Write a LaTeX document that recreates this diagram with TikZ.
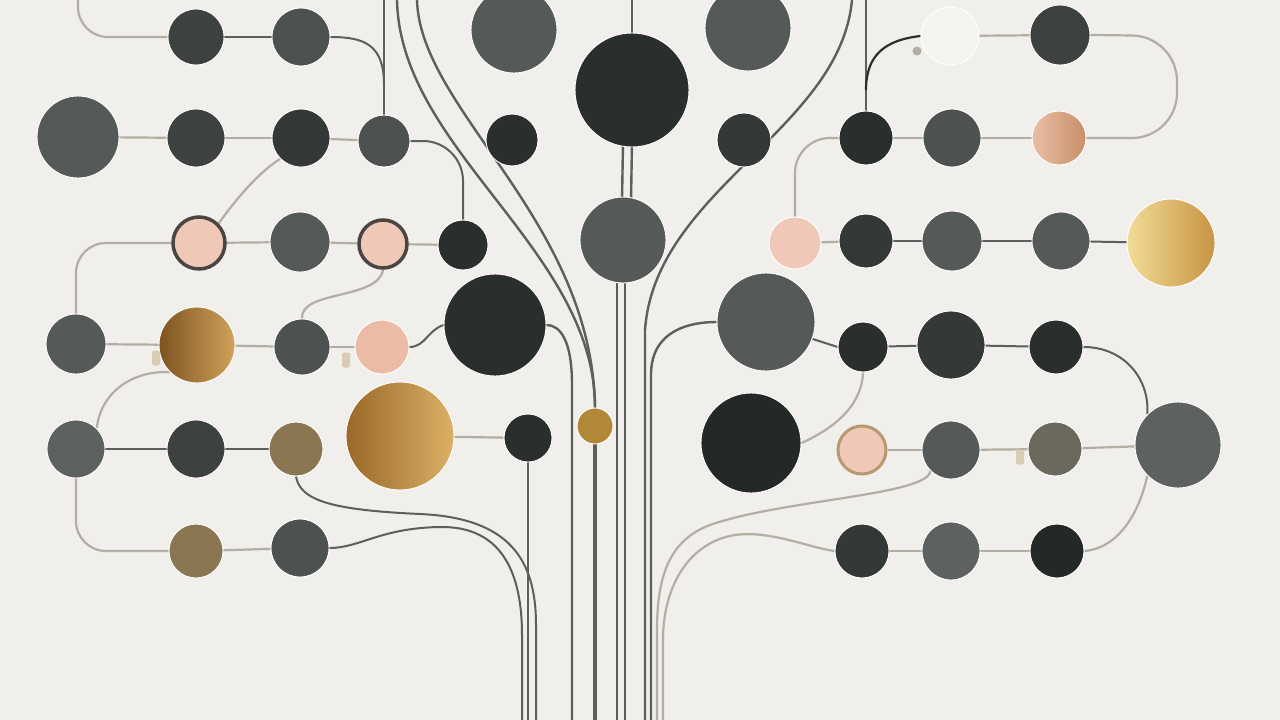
\documentclass[tikz,border=0pt]{standalone}
\usetikzlibrary{calc}
\pgfdeclarelayer{bg}\pgfdeclarelayer{lines}\pgfsetlayers{bg,lines,main}
\definecolor{bgc}{HTML}{F0EFEB}
\definecolor{dk0}{HTML}{242827}
\definecolor{dk1}{HTML}{2A2E2D}
\definecolor{dk2}{HTML}{343837}
\definecolor{dk3}{HTML}{3D4241}
\definecolor{gr1}{HTML}{4D5251}
\definecolor{gr2}{HTML}{555A59}
\definecolor{gr3}{HTML}{5D6261}
\definecolor{pinkf}{HTML}{F0C8B8}
\definecolor{pinkb}{HTML}{EBBBA6}
\definecolor{ringd}{HTML}{4A4540}
\definecolor{ringg}{HTML}{B89870}
\definecolor{olive}{HTML}{8A7650}
\definecolor{oliveg}{HTML}{6A695C}
\definecolor{whitec}{HTML}{F6F4F0}
\definecolor{lineL}{HTML}{B3AEA4}
\definecolor{lineD}{HTML}{5C5F5D}
\definecolor{tanc}{HTML}{D8CDB4}
\definecolor{brA}{HTML}{7E5320}
\definecolor{brB}{HTML}{CFA35A}
\definecolor{brC}{HTML}{9A6828}
\definecolor{brD}{HTML}{DBB166}
\definecolor{gdA}{HTML}{F2DC98}
\definecolor{gdB}{HTML}{C89444}
\definecolor{cpA}{HTML}{E8C0A6}
\definecolor{cpB}{HTML}{C88E68}
\definecolor{smg}{HTML}{B08838}
\begin{document}
\begin{tikzpicture}[x=1pt,y=-1pt,
  nd/.style={circle,inner sep=0pt,minimum size=#1pt,draw=white,line width=0.9pt},
  ringn/.style={circle,inner sep=0pt,minimum size=#1pt,draw=ringd,line width=3.5pt,fill=pinkf},
  lt/.style={draw=lineL,line width=2.2pt},
  dkl/.style={draw=lineD,line width=2pt},
  bund/.style={draw=lineD,line width=2.4pt},
  tab/.style={rounded corners=2pt,fill=tanc,minimum width=8pt,minimum height=15pt,inner sep=0pt}]
\useasboundingbox (0,0) rectangle (1280,720);
\begin{pgfonlayer}{bg}
\fill[bgc] (0,0) rectangle (1280,720);
\end{pgfonlayer}

% ---------- left nodes ----------
\node[nd=56,fill=dk3] (L1) at (196,37) {};
\node[nd=58,fill=gr1] (L2) at (301,37) {};
\node[nd=82,fill=gr2] (L3) at (78,137) {};
\node[nd=58,fill=dk3] (L4) at (196,138) {};
\node[nd=58,fill=dk2] (L5) at (301,138) {};
\node[nd=52,fill=gr1] (L6) at (384,141) {};
\node[ringn=52] (L7) at (199,243) {};
\node[nd=60,fill=gr2] (L8) at (300,242) {};
\node[ringn=48] (L9) at (383,244) {};
\node[nd=50,fill=dk1] (L10) at (463,245) {};
\node[nd=60,fill=gr2] (L11) at (76,344) {};
\node[nd=76,left color=brA,right color=brB] (L12) at (197,345) {};
\node[nd=56,fill=gr1] (L13) at (302,347) {};
\node[nd=54,fill=pinkb] (L14) at (382,347) {};
\node[nd=102,fill=dk1] (L15) at (495,325) {};
\node[nd=58,fill=gr3] (L16) at (76,449) {};
\node[nd=58,fill=dk3] (L17) at (196,449) {};
\node[nd=54,fill=olive] (L18) at (296,449) {};
\node[nd=108,left color=brC,right color=brD] (L19) at (400,436) {};
\node[nd=48,fill=dk1] (L20) at (528,438) {};
\node[nd=36,fill=smg] (L21) at (595,426) {};
\node[nd=54,fill=olive] (L22) at (196,551) {};
\node[nd=58,fill=gr1] (L23) at (300,548) {};
\node[tab] (T1) at (156,358) {};
\node[tab] (T2) at (346,360) {};

% ---------- centre nodes ----------
\node[nd=86,fill=gr2] (C1) at (514,30) {};
\node[nd=114,fill=dk1] (C2) at (632,90) {};
\node[nd=86,fill=gr2] (C3) at (748,28) {};
\node[nd=52,fill=dk1] (C4) at (512,140) {};
\node[nd=54,fill=dk2] (C5) at (744,140) {};
\node[nd=86,fill=gr2] (C6) at (623,240) {};

% ---------- right nodes ----------
\node[nd=58,fill=whitec] (R1) at (950,36) {};
\node[nd=60,fill=dk3] (R2) at (1060,35) {};
\node[nd=54,fill=dk1] (R3) at (866,138) {};
\node[nd=58,fill=gr1] (R4) at (952,138) {};
\node[nd=54,left color=cpA,right color=cpB] (R5) at (1059,138) {};
\node[nd=52,fill=pinkf] (R6) at (795,243) {};
\node[nd=54,fill=dk2] (R7) at (866,241) {};
\node[nd=60,fill=gr2] (R8) at (952,241) {};
\node[nd=58,fill=gr2] (R9) at (1061,241) {};
\node[nd=88,left color=gdA,right color=gdB] (R10) at (1171,243) {};
\node[nd=98,fill=gr2] (R11) at (766,322) {};
\node[nd=50,fill=dk1] (R12) at (863,347) {};
\node[nd=68,fill=dk2] (R13) at (951,345) {};
\node[nd=54,fill=dk1] (R14) at (1056,347) {};
\node[nd=100,fill=dk0] (R15) at (751,443) {};
\node[circle,inner sep=0pt,minimum size=48pt,draw=ringg,line width=3pt,fill=pinkf] (R16) at (862,450) {};
\node[nd=58,fill=gr2] (R17) at (951,450) {};
\node[nd=54,fill=oliveg] (R18) at (1055,449) {};
\node[nd=86,fill=gr3] (R19) at (1178,445) {};
\node[nd=54,fill=dk2] (R20) at (862,551) {};
\node[nd=58,fill=gr3] (R21) at (951,551) {};
\node[nd=54,fill=dk0] (R22) at (1057,551) {};
\node[tab] (T3) at (1020,457) {};
\node[circle,fill=lineL,minimum size=9pt,inner sep=0pt] (T4) at (917,51) {};

% ---------- free ends ----------
\coordinate (tl) at (78,0);
\coordinate (t384) at (384,0);
\coordinate (j1) at (384,85);
\coordinate (tA) at (397,0);
\coordinate (tB) at (417,0);
\coordinate (t632) at (632,0);
\coordinate (tR) at (852,0);
\coordinate (t866) at (866,0);
\coordinate (j2) at (866,90);
\coordinate (b522) at (522,720);
\coordinate (b528) at (528,720);
\coordinate (b536) at (536,720);
\coordinate (b572) at (572,720);
\coordinate (b595) at (595,720);
\coordinate (b617) at (617,720);
\coordinate (b625) at (625,720);
\coordinate (b645) at (645,720);
\coordinate (b651) at (651,720);
\coordinate (b657) at (657,720);
\coordinate (b663) at (663,720);

\begin{pgfonlayer}{lines}
% left connectors
\draw[lt,rounded corners=30pt] (tl) |- (L1.west);
\draw[dkl] (L1) -- (L2);
\draw[dkl] (t384) -- (L6.north);
\draw[dkl] (L2.east) .. controls (365,37) and (384,45) .. (j1);
\draw[lt] (L3) -- (L4);
\draw[lt] (L4) -- (L5);
\draw[lt] (L5) -- (L6);
\draw[dkl,rounded corners=40pt] (L6.east) -| (L10.north);
\draw[lt] (L7.north east) .. controls (232,205) and (255,175) .. (L5.south west);
\draw[lt] (L7) -- (L8);
\draw[lt] (L8) -- (L9);
\draw[lt] (L9) -- (L10);
\draw[lt,rounded corners=30pt] (L7.west) -| (L11.north);
\draw[lt] (L9.south) .. controls (378,300) and (300,290) .. (L13.north);
\draw[lt] (L11) -- (L12);
\draw[lt] (L12) -- (L13);
\draw[lt] (L13) -- (L14);
\draw[dkl] (L14.east) .. controls (425,347) and (428,330) .. (L15.west);
\draw[lt] (L12.south west) .. controls (130,370) and (100,395) .. (L16.north east);
\draw[dkl] (L16) -- (L17);
\draw[dkl] (L17) -- (L18);
\draw[lt] (L19) -- (L20);
\draw[lt,rounded corners=30pt] (L16.south) |- (L22.west);
\draw[lt] (L22) -- (L23);
\draw[dkl] (L18.south) .. controls (300,500) and (330,510) .. (420,514) .. controls (510,518) and (536,560) .. (536,625) -- (b536);
\draw[dkl] (L23.east) .. controls (360,548) and (380,528) .. (440,527) .. controls (500,526) and (522,570) .. (522,635) -- (b522);
\draw[bund] (L20.south) -- (b528);
\draw[bund] (L15.east) .. controls (560,325) and (572,340) .. (572,385) -- (b572);
\draw[bund] (tA) .. controls (400,150) and (595,250) .. (L21.north);
\draw[bund] (tB) .. controls (420,110) and (592,220) .. (L21.north);
\draw[draw=lineD,line width=3.6pt] (L21.south) -- (b595);
% centre connectors
\draw[bund] (t632) -- (C2.north);
\draw[bund] ($(C2.south)+(-9,-5)$) -- ($(C6.north)+(-1,5)$);
\draw[bund] ($(C2.south)+(0,-5)$) -- ($(C6.north)+(8,5)$);
\draw[bund] ($(C6.south)+(-6,-5)$) -- (b617);
\draw[bund] ($(C6.south)+(2,-5)$) -- (b625);
% right connectors
\draw[bund] (tR) .. controls (840,130) and (655,190) .. (645,330) -- (b645);
\draw[bund] (R11.west) .. controls (690,322) and (651,330) .. (651,375) -- (b651);
\draw[lt] (R17.south west) .. controls (930,495) and (780,500) .. (710,525) .. controls (670,540) and (657,575) .. (657,630) -- (b657);
\draw[lt] (R20.west) .. controls (810,548) and (770,530) .. (735,535) .. controls (690,542) and (663,585) .. (663,640) -- (b663);
\draw[lt] (R1) -- (R2);
\draw[lt,rounded corners=45pt] (R5.east) -- (1177,138) -- (1177,36) -- (R2.east);
\draw[lt] (R3) -- (R4);
\draw[lt] (R4) -- (R5);
\draw[dkl] (t866) -- (R3.north);
\draw[draw=dk1,line width=2.2pt] (j2) .. controls (866,55) and (885,40) .. (R1.west);
\draw[lt,rounded corners=35pt] (R6.north) |- (R3.west);
\draw[lt] (R6) -- (R7);
\draw[dkl] (R7) -- (R8);
\draw[dkl] (R8) -- (R9);
\draw[dkl] (R9) -- (R10);
\draw[dkl] (R11.-20) -- (R12.west);
\draw[dkl] (R12) -- (R13);
\draw[dkl] (R13) -- (R14);
\draw[dkl] (R14.east) .. controls (1125,347) and (1150,380) .. (R19.north west);
\draw[lt] (R12.south) .. controls (862,405) and (835,428) .. (R15.east);
\draw[lt] (R16) -- (R17);
\draw[lt] (R17) -- (R18);
\draw[lt] (R18) -- (R19);
\draw[lt] (R19.south west) .. controls (1140,510) and (1120,548) .. (R22.east);
\draw[lt] (R20) -- (R21);
\draw[lt] (R21) -- (R22);
\end{pgfonlayer}
\end{tikzpicture}
\end{document}
